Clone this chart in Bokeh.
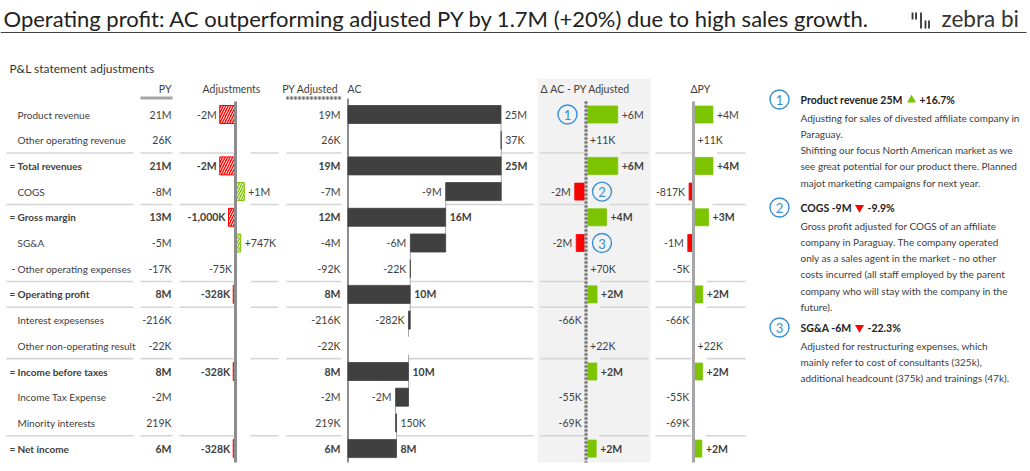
from bokeh.plotting import figure
from bokeh.models import Range1d, ColumnDataSource
from bokeh.embed import file_html
from bokeh.resources import INLINE
from bokeh.core.properties import value

# ---------------- data (values in millions) ----------------
categories = ["Product revenue", "Other operating revenue", "Total revenues", "COGS",
              "Gross margin", "SG&A", "Other operating expenses", "Operating profit",
              "Interest expesenses", "Other non-operating result", "Income before taxes",
              "Income Tax Expense", "Minority interests", "Net income"]
row_kind = ["item", "item", "total", "item", "total", "item", "minus", "total",
            "item", "item", "total", "item", "item", "total"]
py = [21.354, 0.026, 21.380, -8.233, 13.147, -4.70, -0.017, 8.430,
      -0.216, -0.022, 8.192, -2.045, 0.219, 6.366]
adjustments = [-2.25, None, -2.25, 1.2504, -0.9996, 0.747, -0.075, -0.3276,
               None, None, -0.3276, None, None, -0.3276]
ac = [24.92, 0.037, 24.957, -9.05, 15.907, -5.75, -0.022, 10.135,
      -0.282, 0.0, 9.853, -2.1, 0.15, 7.903]
comment_rows = [0, 3, 5]
notes_body = [
    ["Adjusting for sales of divested affiliate company in", "Paraguay.",
     "Shifiting our focus North American market as we",
     "see great potential for our product there. Planned",
     "majot marketing campaigns for next year."],
    ["Gross profit adjusted for COGS of an affiliate", "company in Paraguay. The company operated",
     "only as a sales agent in the market - no other", "costs incurred (all staff employed by the parent",
     "company who will stay with the company in the", "future)."],
    ["Adjusted for restructuring expenses, which", "mainly refer to cost of consultants (325k),",
     "additional headcount (375k) and trainings (47k)."],
]
title = "Operating profit: AC outperforming adjusted PY by 1.7M (+20%) due to high sales growth."
subtitle = "P&L statement adjustments"
headers = ["PY", "Adjustments", "PY Adjusted", "AC", "\u0394 AC - PY Adjusted", "\u0394PY"]

n = len(categories)
py_adj = [p_ + (a if a is not None else 0.0) for p_, a in zip(py, adjustments)]
d_adj = [a - b for a, b in zip(ac, py_adj)]
d_py = [a - b for a, b in zip(ac, py)]


def fmt(v, sign=False):
    s = "+" if (sign and v > 0) else ("-" if v < 0 else "")
    a = abs(v)
    if a >= 1.0:
        return f"{s}{round(a):d}M"
    return f"{s}{round(a * 1000):,}K"


# ---------------- layout ----------------
FONT = "Lato"
W, H = 1030, 471
DARK = "#404040"
GREEN = "#7DC400"
RED = "#FF0000"
BLUE = "#3A8FD6"
BOT = 462

p = figure(width=W, height=H, x_range=Range1d(0, W), y_range=Range1d(H, 0),
           output_backend="svg", toolbar_location=None, min_border=0,
           x_axis_location=None, y_axis_location=None)
p.grid.visible = False
p.outline_line_color = None
p.background_fill_color = "white"


def lin_range(x0, k):
    s = (0 - x0) / k
    return Range1d(s, s + W / k)


AX_ADJ, K_ADJ = 235.0, 7.0
AX_AC, K_AC = 347.5, 6.14
AX_DA, K_D = 585.5, 5.45
AX_DP = 693.0
p.extra_x_ranges = {"adj": lin_range(AX_ADJ, K_ADJ), "ac": lin_range(AX_AC, K_AC),
                    "dadj": lin_range(AX_DA, K_D), "dpy": lin_range(AX_DP, K_D)}


def to_units(px, x0, k):
    return (px - x0) / k


ROW0, ROWH = 114.0, 25.7
ys = [ROW0 + i * ROWH for i in range(n)]
BAR_H = 18
is_total = [k == "total" for k in row_kind]
FS = "10.5px"


def texts(xs, yv, tv, size=FS, color=DARK, align="left", bold=None, rng="default",
          xoff=0, baseline="middle", font=FONT):
    if bold is None:
        bold = [False] * len(tv)
    src = ColumnDataSource(dict(x=xs, y=yv, t=tv,
                                st=["bold" if b else "normal" for b in bold]))
    p.text(x="x", y="y", text="t", source=src, text_font=value(font),
           text_font_size=value(size), text_color=color, text_align=align,
           text_baseline=baseline, text_font_style="st", x_offset=xoff, x_range_name=rng)


# ---- gray panel for delta AC - PY adjusted
p.quad(left=537, right=650, top=78, bottom=BOT, fill_color="#f2f2f2", line_color=None)

# ---- title
texts([3], [18], [title], size="22px", color="#222222")
p.segment(x0=[0], x1=[1026], y0=[32], y1=[32], line_color="#404040", line_width=1.2)
texts([941], [18], ["zebra bi"], size="22.5px", color="#333333")
p.segment(x0=[912, 915.5, 920.5, 925, 928.5], x1=[912, 915.5, 920.5, 925, 928.5],
          y0=[12, 12, 12, 20, 20], y1=[19, 19, 28, 28, 28], line_color="#333333", line_width=1.8)

texts([9], [68], [subtitle], size="12px", color="#333333")

# ---- headers
texts([171], [88], [headers[0]], align="right")
texts([231], [88], [headers[1]], align="center")
texts([338], [88], [headers[2]], align="right")
texts([347], [88], [headers[3]])
texts([540], [88], [headers[4]])
texts([690], [88], [headers[5]])
p.segment(x0=[140], x1=[172], y0=[97.5], y1=[97.5], line_color="#a6a6a6", line_width=3)
p.segment(x0=[286], x1=[341], y0=[97.5], y1=[97.5], line_color="#d0d0d0", line_width=3)
p.segment(x0=[286], x1=[341], y0=[97.5], y1=[97.5], line_color="#6a6a6a", line_width=3,
          line_dash="2 2")

# ---- separator lines (above totals, and below operating profit)
sep_idx = [i for i in range(n) if is_total[i]]
sep_y = [ys[i] - ROWH / 2 for i in sep_idx]
sep_y_all = sep_y + [ys[7] + ROWH / 2]
SEPC = "#d4d4d4"
for yy in sep_y_all:
    p.segment(x0=[6, 140, 179, 250, 286], x1=[133, 172, 233, 278, 341], y0=[yy] * 5, y1=[yy] * 5,
              line_color=SEPC, line_width=1.6)
    p.segment(x0=[540, 655], x1=[AX_DA - 2, AX_DP - 2], y0=[yy] * 2, y1=[yy] * 2,
              line_color=SEPC, line_width=1.6)
tot_rows = sep_idx + [7]
p.segment(x0=[ac[i] for i in tot_rows],
          x1=[to_units(533, AX_AC, K_AC)] * len(tot_rows),
          y0=sep_y_all, y1=sep_y_all, line_color=SEPC, line_width=1.6, x_range_name="ac")
p.segment(x0=[max(d_adj[i], 0) + 3 / K_D for i in tot_rows],
          x1=[to_units(648, AX_DA, K_D)] * len(tot_rows),
          y0=sep_y_all, y1=sep_y_all, line_color=SEPC, line_width=1.6, x_range_name="dadj")
p.segment(x0=[max(d_py[i], 0) + 4 / K_D for i in tot_rows],
          x1=[to_units(745, AX_DP, K_D)] * len(tot_rows),
          y0=sep_y_all, y1=sep_y_all, line_color=SEPC, line_width=1.6, x_range_name="dpy")

# ---- row labels
lab_t, lab_b = [], []
pre_x, pre_t, pre_y = [], [], []
for i, (c, k) in enumerate(zip(categories, row_kind)):
    lab_t.append(c)
    lab_b.append(k == "total")
    if k == "total":
        pre_x.append(9); pre_t.append("="); pre_y.append(ys[i])
    elif k == "minus":
        pre_x.append(11); pre_t.append("-"); pre_y.append(ys[i])
texts([17] * n, ys, lab_t, bold=lab_b, size="10px")
texts(pre_x, pre_y, pre_t, bold=[True] * len(pre_t), size="10px")

# ---- PY and PY adjusted values
texts([171] * n, ys, [fmt(v) for v in py], align="right", bold=is_total)
texts([340] * n, ys, [fmt(v) for v in py_adj], align="right", bold=is_total)

# ---- Adjustments (hatched bars)
adj_i = [i for i in range(n) if adjustments[i] is not None]
av = [adjustments[i] for i in adj_i]
src = ColumnDataSource(dict(y=[ys[i] for i in adj_i], l=[min(v, 0) for v in av],
                            r=[max(v, 0) for v in av],
                            c=[GREEN if v > 0 else RED for v in av]))
p.hbar(y="y", left="l", right="r", height=BAR_H, fill_color="c", line_color="c", line_width=1,
       hatch_pattern="/", hatch_color="white", hatch_weight=1.0, hatch_scale=5,
       source=src, x_range_name="adj")
neg = [k for k, v in enumerate(av) if v < 0]
pos = [k for k, v in enumerate(av) if v > 0]
texts([av[k] for k in neg], [ys[adj_i[k]] for k in neg], [fmt(av[k], True) for k in neg],
      align="right", bold=[is_total[adj_i[k]] for k in neg], rng="adj", xoff=-3)
texts([av[k] for k in pos], [ys[adj_i[k]] for k in pos], [fmt(av[k], True) for k in pos],
      align="left", bold=[is_total[adj_i[k]] for k in pos], rng="adj", xoff=4)
p.segment(x0=[AX_ADJ], x1=[AX_ADJ], y0=[101], y1=[BOT], line_color="#8c8c8c", line_width=3)

# ---- AC waterfall
left, right = [], []
cum = 0.0
for v, t in zip(ac, is_total):
    if t:
        left.append(0.0); right.append(v); cum = v
    else:
        left.append(cum); right.append(cum + v); cum += v
p.segment(x0=right[:-1], x1=right[:-1], y0=[y + BAR_H / 2 for y in ys[:-1]],
          y1=[y - BAR_H / 2 for y in ys[1:]], line_color="#a6a6a6", line_width=1,
          x_range_name="ac")
bi = [i for i in range(n) if ac[i] != 0]
p.hbar(y=[ys[i] for i in bi], left=[min(left[i], right[i]) for i in bi],
       right=[max(left[i], right[i]) for i in bi], height=BAR_H, fill_color=DARK,
       line_color=DARK, line_width=0.8, x_range_name="ac")
p.segment(x0=[0], x1=[0], y0=[98], y1=[BOT], line_color=DARK, line_width=1.2, x_range_name="ac")
negi = [i for i in bi if ac[i] < 0]
posi = [i for i in bi if ac[i] > 0]
texts([min(left[i], right[i]) for i in negi], [ys[i] for i in negi], [fmt(ac[i]) for i in negi],
      align="right", bold=[is_total[i] for i in negi], rng="ac", xoff=-4)
texts([max(left[i], right[i]) for i in posi], [ys[i] for i in posi], [fmt(ac[i]) for i in posi],
      align="left", bold=[is_total[i] for i in posi], rng="ac", xoff=4)

# ---- delta columns
for vals, rng, ax in ((d_adj, "dadj", AX_DA), (d_py, "dpy", AX_DP)):
    src = ColumnDataSource(dict(y=ys, l=[min(v, 0) for v in vals], r=[max(v, 0) for v in vals],
                                c=[GREEN if v > 0 else RED for v in vals]))
    p.hbar(y="y", left="l", right="r", height=17, fill_color="c", line_color="c",
           line_width=0.8, source=src, x_range_name=rng)
    ni = [i for i in range(n) if vals[i] < 0]
    pi = [i for i in range(n) if vals[i] > 0]
    texts([vals[i] for i in ni], [ys[i] for i in ni], [fmt(vals[i], True) for i in ni],
          align="right", bold=[is_total[i] for i in ni], rng=rng, xoff=-4)
    texts([vals[i] for i in pi], [ys[i] for i in pi], [fmt(vals[i], True) for i in pi],
          align="left", bold=[is_total[i] for i in pi], rng=rng, xoff=4)
    if rng == "dadj":
        p.segment(x0=[ax], x1=[ax], y0=[101], y1=[BOT], line_color="#d0d0d0", line_width=3)
        p.segment(x0=[ax], x1=[ax], y0=[101], y1=[BOT], line_color="#6a6a6a", line_width=3,
                  line_dash="2 2")
    else:
        p.segment(x0=[ax], x1=[ax], y0=[101], y1=[BOT], line_color="#a6a6a6", line_width=3)

# ---- comment markers in the chart
cx = [AX_DA - 18.5 if d_adj[i] > 0 else AX_DA + 16 for i in comment_rows]
cy = [ys[i] for i in comment_rows]
p.scatter(x=cx, y=cy, size=19, marker="circle", fill_color=None, line_color=BLUE, line_width=1.4)
texts(cx, [y + 0.5 for y in cy], [str(k + 1) for k in range(len(comment_rows))],
      align="center", color=BLUE, size="13px")

# ---- notes on the right
note_ty = [99, 207, 327]
tri_x = [911, 859, 859]
for k, i in enumerate(comment_rows):
    ty = note_ty[k]
    p.scatter(x=[779], y=[ty], size=19, marker="circle", fill_color=None, line_color=BLUE,
              line_width=1.4)
    texts([779], [ty + 0.5], [str(k + 1)], align="center", color=BLUE, size="13px")
    texts([800], [ty], [f"{categories[i]} {fmt(ac[i])}"], bold=[True], color="#222222")
    pct = d_py[i] / abs(py[i]) * 100
    up = pct > 0
    p.scatter(x=[tri_x[k]], y=[ty + (0.5 if up else 0)], size=9,
              marker="triangle" if up else "inverted_triangle",
              fill_color=GREEN if up else RED, line_color=None)
    texts([tri_x[k] + 8], [ty], [f"{pct:+.1f}%"], bold=[True], color="#222222")
    body = notes_body[k]
    texts([800] * len(body), [ty + 18 + j * 16.3 for j in range(len(body))], body,
          color="#404040", size="10px")

open("out.html", "w").write(file_html(p, INLINE))
